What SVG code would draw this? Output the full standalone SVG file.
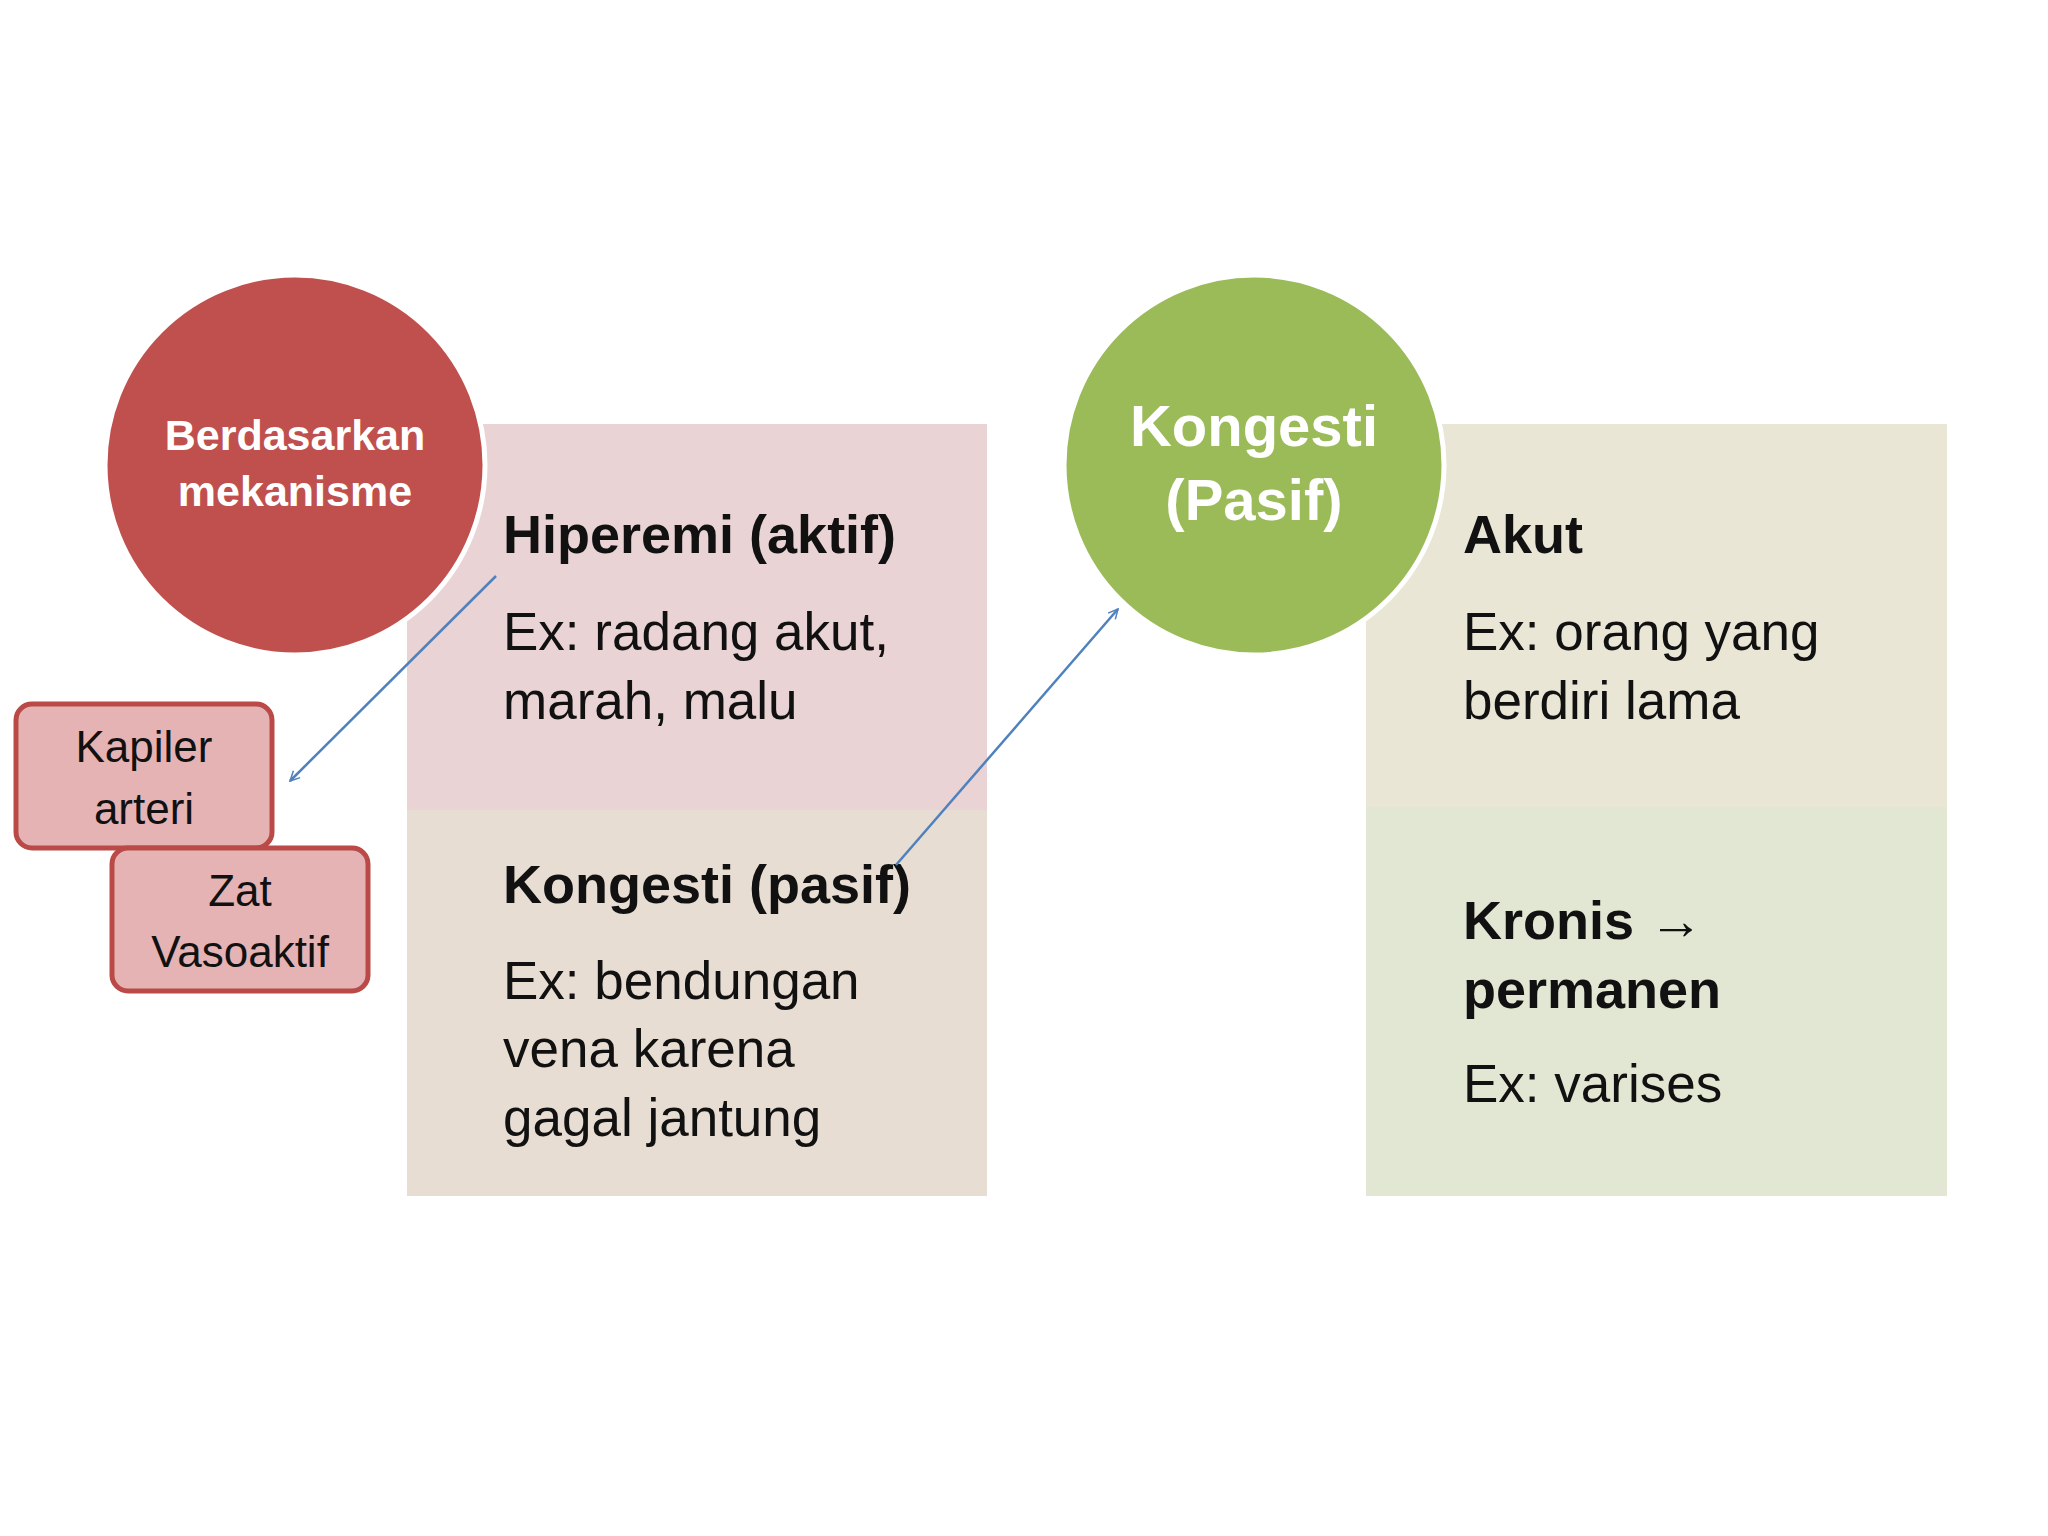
<svg xmlns="http://www.w3.org/2000/svg" width="2048" height="1536" viewBox="0 0 2048 1536">
<defs>
<style>
text{font-family:"Liberation Sans",Arial,sans-serif;fill:#111}
.c{fill:#fff;font-weight:bold;text-anchor:middle}
.h{font-weight:bold;font-size:54px}
.b{font-size:53px}
.s{font-size:44px;text-anchor:middle}
.box{fill:#e6b3b4;stroke:#b94a48;stroke-width:5}
.ln{stroke:#4f81bd;stroke-width:2.5;fill:none;marker-end:url(#a)}
</style>
<marker id="a" viewBox="0 0 20 20" refX="18" refY="10" markerWidth="12" markerHeight="12" orient="auto" markerUnits="userSpaceOnUse"><path d="M2 2L18 10L2 18" fill="none" stroke="#4f81bd" stroke-width="2.5"/></marker>
</defs>
<rect width="2048" height="1536" fill="#fff"/>
<g id="panel-left">
<rect x="407" y="424" width="580" height="386" fill="#ead3d5"/>
<rect x="407" y="810" width="580" height="386" fill="#e8ddd3"/>
<text class="h" x="503" y="553">Hiperemi (aktif)</text>
<text class="b" x="503" y="650">Ex: radang akut,</text>
<text class="b" x="503" y="719">marah, malu</text>
<text class="h" x="503" y="903">Kongesti (pasif)</text>
<text class="b" x="503" y="999">Ex: bendungan</text>
<text class="b" x="503" y="1067">vena karena</text>
<text class="b" x="503" y="1136">gagal jantung</text>
</g>
<g id="panel-right">
<rect x="1366" y="424" width="581" height="383" fill="#e9e6d5"/>
<rect x="1366" y="807" width="581" height="389" fill="#e1e7d3"/>
<text class="h" x="1463" y="553">Akut</text>
<text class="b" x="1463" y="650">Ex: orang yang</text>
<text class="b" x="1463" y="719">berdiri lama</text>
<text class="h" x="1463" y="939">Kronis →</text>
<text class="h" x="1463" y="1008">permanen</text>
<text class="b" x="1463" y="1102">Ex: varises</text>
</g>
<g id="circle-red">
<circle cx="295" cy="465" r="190" fill="#c0504d" stroke="#fff" stroke-width="5"/>
<text class="c" x="295" y="450" font-size="43">Berdasarkan</text>
<text class="c" x="295" y="506" font-size="43">mekanisme</text>
</g>
<g id="circle-green">
<circle cx="1254" cy="465" r="190" fill="#9bbb59" stroke="#fff" stroke-width="5"/>
<text class="c" x="1254" y="446" font-size="58">Kongesti</text>
<text class="c" x="1254" y="520" font-size="58">(Pasif)</text>
</g>
<g id="kapiler">
<rect class="box" x="16" y="704" width="256" height="144" rx="16"/>
<text class="s" x="144" y="762">Kapiler</text>
<text class="s" x="144" y="824">arteri</text>
</g>
<g id="zat">
<rect class="box" x="112" y="848" width="256" height="143" rx="16"/>
<text class="s" x="240" y="906">Zat</text>
<text class="s" x="240" y="967">Vasoaktif</text>
</g>
<g id="connectors">
<line class="ln" x1="496" y1="576" x2="290" y2="781"/>
<line class="ln" x1="896" y1="865" x2="1118" y2="609"/>
</g>
</svg>
